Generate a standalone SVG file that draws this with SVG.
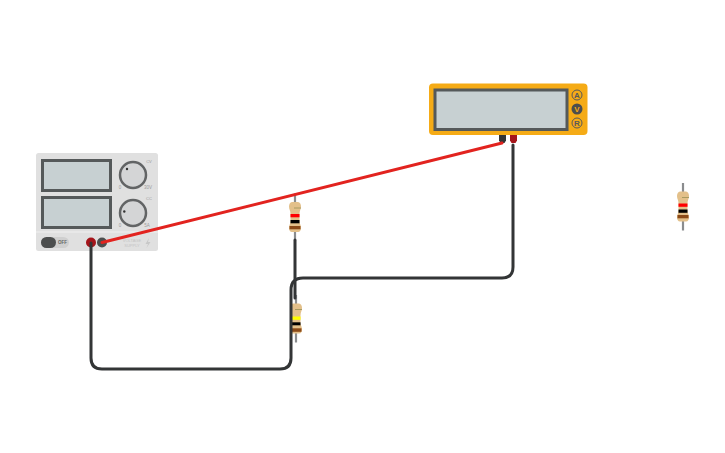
<svg xmlns="http://www.w3.org/2000/svg" width="725" height="453" viewBox="0 0 725 453">
<style>
.lcd{fill:#c7d0d2;stroke:#55595a;stroke-width:3}
.knob{fill:#d4d5d6;stroke:#626465;stroke-width:2.500}
.tiny{font-family:"Liberation Sans",Arial,sans-serif;fill:#9b9b9b;text-anchor:middle}
.btn{font-family:"Liberation Sans",Arial,sans-serif;font-size:8px;font-weight:bold;text-anchor:middle}
.wire{fill:none;stroke:#333536;stroke-width:3;stroke-linecap:round}
.red{fill:none;stroke:#e2231f;stroke-width:3;stroke-linecap:round}
.lead{stroke:#8a8c8e;stroke-width:2.2}
.body{fill:#e3c08a}
</style>
<defs>
<g id="res">
<line class="lead" x1="0" y1="-23.500" x2="0" y2="-12"/>
<line class="lead" x1="0" y1="12" x2="0" y2="24"/>
<path class="body" d="M-3-15C-5-15-6-12.500-6-10.500C-6-7.500-4.500-6.500-4.500-3L-4.500 4C-4.500 7-6 8-6 11C-6 13-5 15-3 15L3 15C5 15 6 13 6 11C6 8 4.500 7 4.500 4L4.500-3C4.500-6.500 6-7.500 6-10.500C6-12.500 5-15 3-15Z"/>
<rect x="-1" y="-9.500" width="7" height="1" fill="#a89a60"/>
</g>
<path id="term" d="M-3.500 0H3.500V5.500L2 8H-2L-3.500 5.500Z"/>
</defs>
<rect width="725" height="453" fill="#fff"/>
<g id="power-supply">
<rect x="36" y="153" width="122" height="98" rx="2.500" fill="#e0e0e0"/>
<line x1="36" y1="232" x2="158" y2="232" stroke="#f0f0f0"/>
<rect class="lcd" x="42.500" y="160.500" width="68" height="30"/>
<rect class="lcd" x="42.500" y="197.500" width="68" height="30"/>
<circle class="knob" cx="133" cy="175" r="13"/>
<circle class="knob" cx="133" cy="213" r="13"/>
<circle cx="127" cy="169" r="1.200" fill="#333"/>
<circle cx="124.300" cy="211.500" r="1.200" fill="#333"/>
<text class="tiny" font-size="4.500" x="120" y="189">0</text>
<text class="tiny" font-size="4.500" x="148" y="189">30V</text>
<text class="tiny" font-size="4.500" x="120" y="227">0</text>
<text class="tiny" font-size="4.500" x="147" y="227">5A</text>
<text class="tiny" font-size="4" x="149" y="163">CV</text>
<text class="tiny" font-size="4" x="149" y="200">CC</text>
<rect x="41" y="237" width="28" height="11" rx="5.500" fill="#cfcfcf"/>
<rect x="41" y="237" width="15" height="11" rx="5.500" fill="#4c4e4e"/>
<text class="tiny" font-size="4.500" font-weight="bold" x="62.500" y="244.300" style="fill:#666">OFF</text>
<circle cx="91" cy="242.500" r="5" fill="#a5151b"/>
<circle cx="102" cy="242.500" r="5" fill="#4c4e4e"/>
<text class="tiny" font-size="4" x="132" y="242" style="fill:#c4c4c4">VOLTAGE</text>
<text class="tiny" font-size="4" x="132" y="247" style="fill:#c4c4c4">SUPPLY</text>
<path d="M149 238L145.500 244H148L146.500 248L150.500 242H148Z" fill="#c8c8c8"/>
</g>
<g id="multimeter">
<rect x="429" y="83.500" width="158.500" height="51.500" rx="4" fill="#f5ab16"/>
<rect class="lcd" x="435" y="90" width="132" height="39.500"/>
<circle cx="577" cy="95" r="5" fill="none" stroke="#58595b"/>
<circle cx="577" cy="109" r="5.500" fill="#4c4e4e"/>
<circle cx="577" cy="123" r="5" fill="none" stroke="#58595b"/>
<text class="btn" x="577" y="98" fill="#58595b">A</text>
<text class="btn" x="577" y="112" fill="#f5ab16">V</text>
<text class="btn" x="577" y="126" fill="#58595b">R</text>
<use href="#term" x="502.500" y="135" fill="#333536"/>
<use href="#term" x="513.500" y="135" fill="#a5151b"/>
</g>
<g id="r1">
<use href="#res" x="295" y="217"/>
<rect x="290.500" y="214" width="9" height="3.300" fill="#f00"/>
<rect x="290.500" y="220" width="9" height="3.300" fill="#000"/>
<rect x="289.500" y="226" width="11" height="3.300" fill="#8b4a18"/>
</g>
<g id="r2">
<use href="#res" x="296" y="318.500"/>
<rect x="291.500" y="316.500" width="9" height="3.300" fill="#ff0"/>
<rect x="291.500" y="322.300" width="9" height="3" fill="#000"/>
<rect x="290.500" y="328.300" width="11" height="3.500" fill="#8b4a18"/>
</g>
<g id="r3">
<use href="#res" x="683" y="206.500"/>
<rect x="678.500" y="203.500" width="9" height="3.300" fill="#f00"/>
<rect x="678.500" y="209.500" width="9" height="3.300" fill="#000"/>
<rect x="677.500" y="215" width="11" height="3.300" fill="#8b4a18"/>
</g>
<g id="connectors">
<line class="red" x1="102" y1="242.500" x2="502" y2="143"/>
<path class="wire" d="M91 243V358Q91 369 102 369H280Q291 369 291 358V290Q291 278 303 278H502Q513 278 513 267V145"/>
<line class="wire" x1="295" y1="240" x2="295" y2="298"/>
</g>
</svg>
